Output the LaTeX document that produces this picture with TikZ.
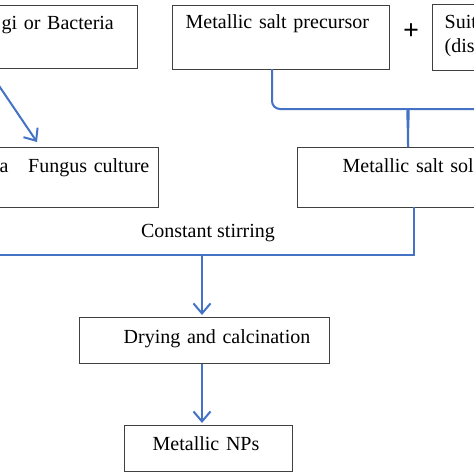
\documentclass[tikz,border=0pt]{standalone}
\usepackage{fontspec}
\setmainfont{Liberation Serif}
\usetikzlibrary{arrows.meta}
\definecolor{flowblue}{RGB}{68,114,196}
\definecolor{boxgray}{RGB}{64,64,64}

\begin{document}
\begin{tikzpicture}[x=1pt, y=-1pt,
  procbox/.style={draw=boxgray, line width=1.4pt, anchor=north west, inner xsep=4pt, inner ysep=0pt, align=left, font=\fontsize{20}{24}\selectfont},
  flow/.style={draw=flowblue, line width=2pt},
  flowarrow/.style={flow, -{Straight Barb[length=10pt, width=17pt]}}]
\useasboundingbox (0,0) rectangle (474,474);
\fill[white] (0,0) rectangle (474,474);
\clip (0,0) rectangle (474,474);

% top row
\node[procbox, text width=339pt, text height=24pt, text depth=39pt] (bact) at (-210,5) {\hspace*{207pt}gi or Bacteria};
\node[procbox, text width=209pt, text height=23pt, text depth=41pt] (prec) at (172,5) {\hspace*{9pt}Metallic salt precursor};
\node[font=\fontsize{28}{30}\selectfont\bfseries] (plus) at (411,32) {+};
\node[procbox, text width=180pt, text height=24pt, text depth=42pt] (suit) at (432,4) {\hspace*{8pt}Suit\\\hspace*{8pt}(dis};

% second row
\node[procbox, text width=370pt, text height=25pt, text depth=35pt] (fcult) at (-220,147) {\hspace*{215pt}a\hspace{13pt} Fungus culture};
\node[procbox, text width=315pt, text height=25pt, text depth=35pt] (sol) at (297,147) {\hspace*{41pt}Metallic salt solu};

\node[font=\fontsize{20}{24}\selectfont, anchor=base] (stir) at (208,237) {Constant stirring};

% lower boxes
\node[procbox, text width=242pt, text height=26pt, text depth=20pt] (dry) at (79,317) {\hspace*{40pt}Drying and calcination};
\node[procbox, text width=160pt, text height=25pt, text depth=21pt] (nps) at (124,425) {\hspace*{24pt}Metallic NPs};

\coordinate (bactout) at (-13,68);
\coordinate (cultin) at (37,142);
\coordinate (precout) at (272,69);
\coordinate (suitout) at (540,70);
\coordinate (brace) at (408,147);
\coordinate (solout) at (414,207);
\coordinate (join) at (202,255);

\draw[flowarrow] (bactout) -- (cultin);
\draw[flow, rounded corners=8pt] (precout) |- (401,109) .. controls (406,109) and (408,114) .. (brace);
\draw[flow, rounded corners=8pt] (suitout) |- (415,109) .. controls (410,109) and (408,114) .. (brace);
\draw[flow] (fcult.south) |- (join) -| (solout);
\draw[flowarrow, shorten >=2pt] (join) -- (join |- dry.north);
\draw[flowarrow, shorten >=2pt] (join |- dry.south) -- (join |- nps.north);
\end{tikzpicture}
\end{document}
